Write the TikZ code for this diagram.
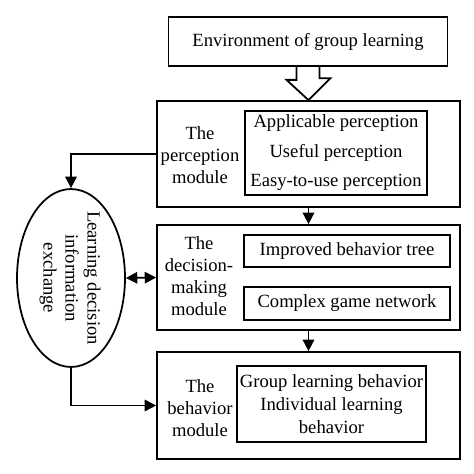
\documentclass[tikz,border=0pt]{standalone}
\usepackage{fontspec}
\setmainfont{Liberation Serif}
\usetikzlibrary{arrows.meta,shapes.geometric}

\begin{document}
\begin{tikzpicture}[x=0.02cm,y=-0.02cm,line width=1pt,>={Triangle[length=6.5pt,width=6.5pt]}]
        \tikzstyle{every node}=[inner sep=0pt,align=center,font=\fontsize{10.6}{12.5}\selectfont]
        \tikzstyle{box}=[draw,rectangle]
        \tikzstyle{outer}=[box,minimum width=6.06cm]
        \useasboundingbox (0,0) rectangle (474,474);
        % top
        \node[box,minimum width=5.58cm,minimum height=0.98cm] (env) at (308,41.5) {Environment of group learning};
        % perception
        \node[outer,minimum height=2.12cm] (percep) at (308.5,154) {};
        \node (perceplabel) at (200,155) {The\\perception\\module};
        \node[box,minimum width=3.64cm,minimum height=1.68cm,font=\fontsize{10.6}{16.8}\selectfont] (perceplist) at (336,153) {Applicable perception\\Useful perception\\Easy-to-use perception};
        % decision
        \node[outer,minimum height=2.1cm] (decision) at (308.5,277.5) {};
        \node (decisionlabel) at (199,276.5) {The\\decision-\\making\\module};
        \node[box,minimum width=4.12cm,minimum height=0.64cm] (tree) at (347,251) {Improved behavior tree};
        \node[box,minimum width=4.12cm,minimum height=0.66cm] (game) at (347,303.5) {Complex game network};
        % behavior
        \node[outer,minimum height=2.14cm] (behav) at (308.5,405.5) {};
        \node (behavlabel) at (200,408) {The\\behavior\\module};
        \node[box,minimum width=3.78cm,minimum height=1.52cm,font=\fontsize{10.6}{13}\selectfont] (behavlist) at (331.5,404) {Group learning behavior\\Individual learning\\behavior};
        % exchange
        \node[draw,ellipse,minimum width=2.16cm,minimum height=3.56cm] (ell) at (71,278) {};
        \node[rotate=-90] (elltext) at (70,278) {Learning decision\\information\\exchange};
        % arrows
        \draw (env.south) ++(-11.5,0) -- ++(0,13) -- ++(-10,0) -- (percep.north) -- ++(22,-22) -- ++(-11,0) -- ++(0,-13);
        \draw[->] (percep.south) -- (decision.north);
        \draw[->] (decision.south) -- (behav.north);
        \draw[->] (percep.west) -| (ell.north);
        \draw[<->] (ell.east) -- (decision.west);
        \draw[->] (ell.south) |- (behav.west);
\end{tikzpicture}
\end{document}
